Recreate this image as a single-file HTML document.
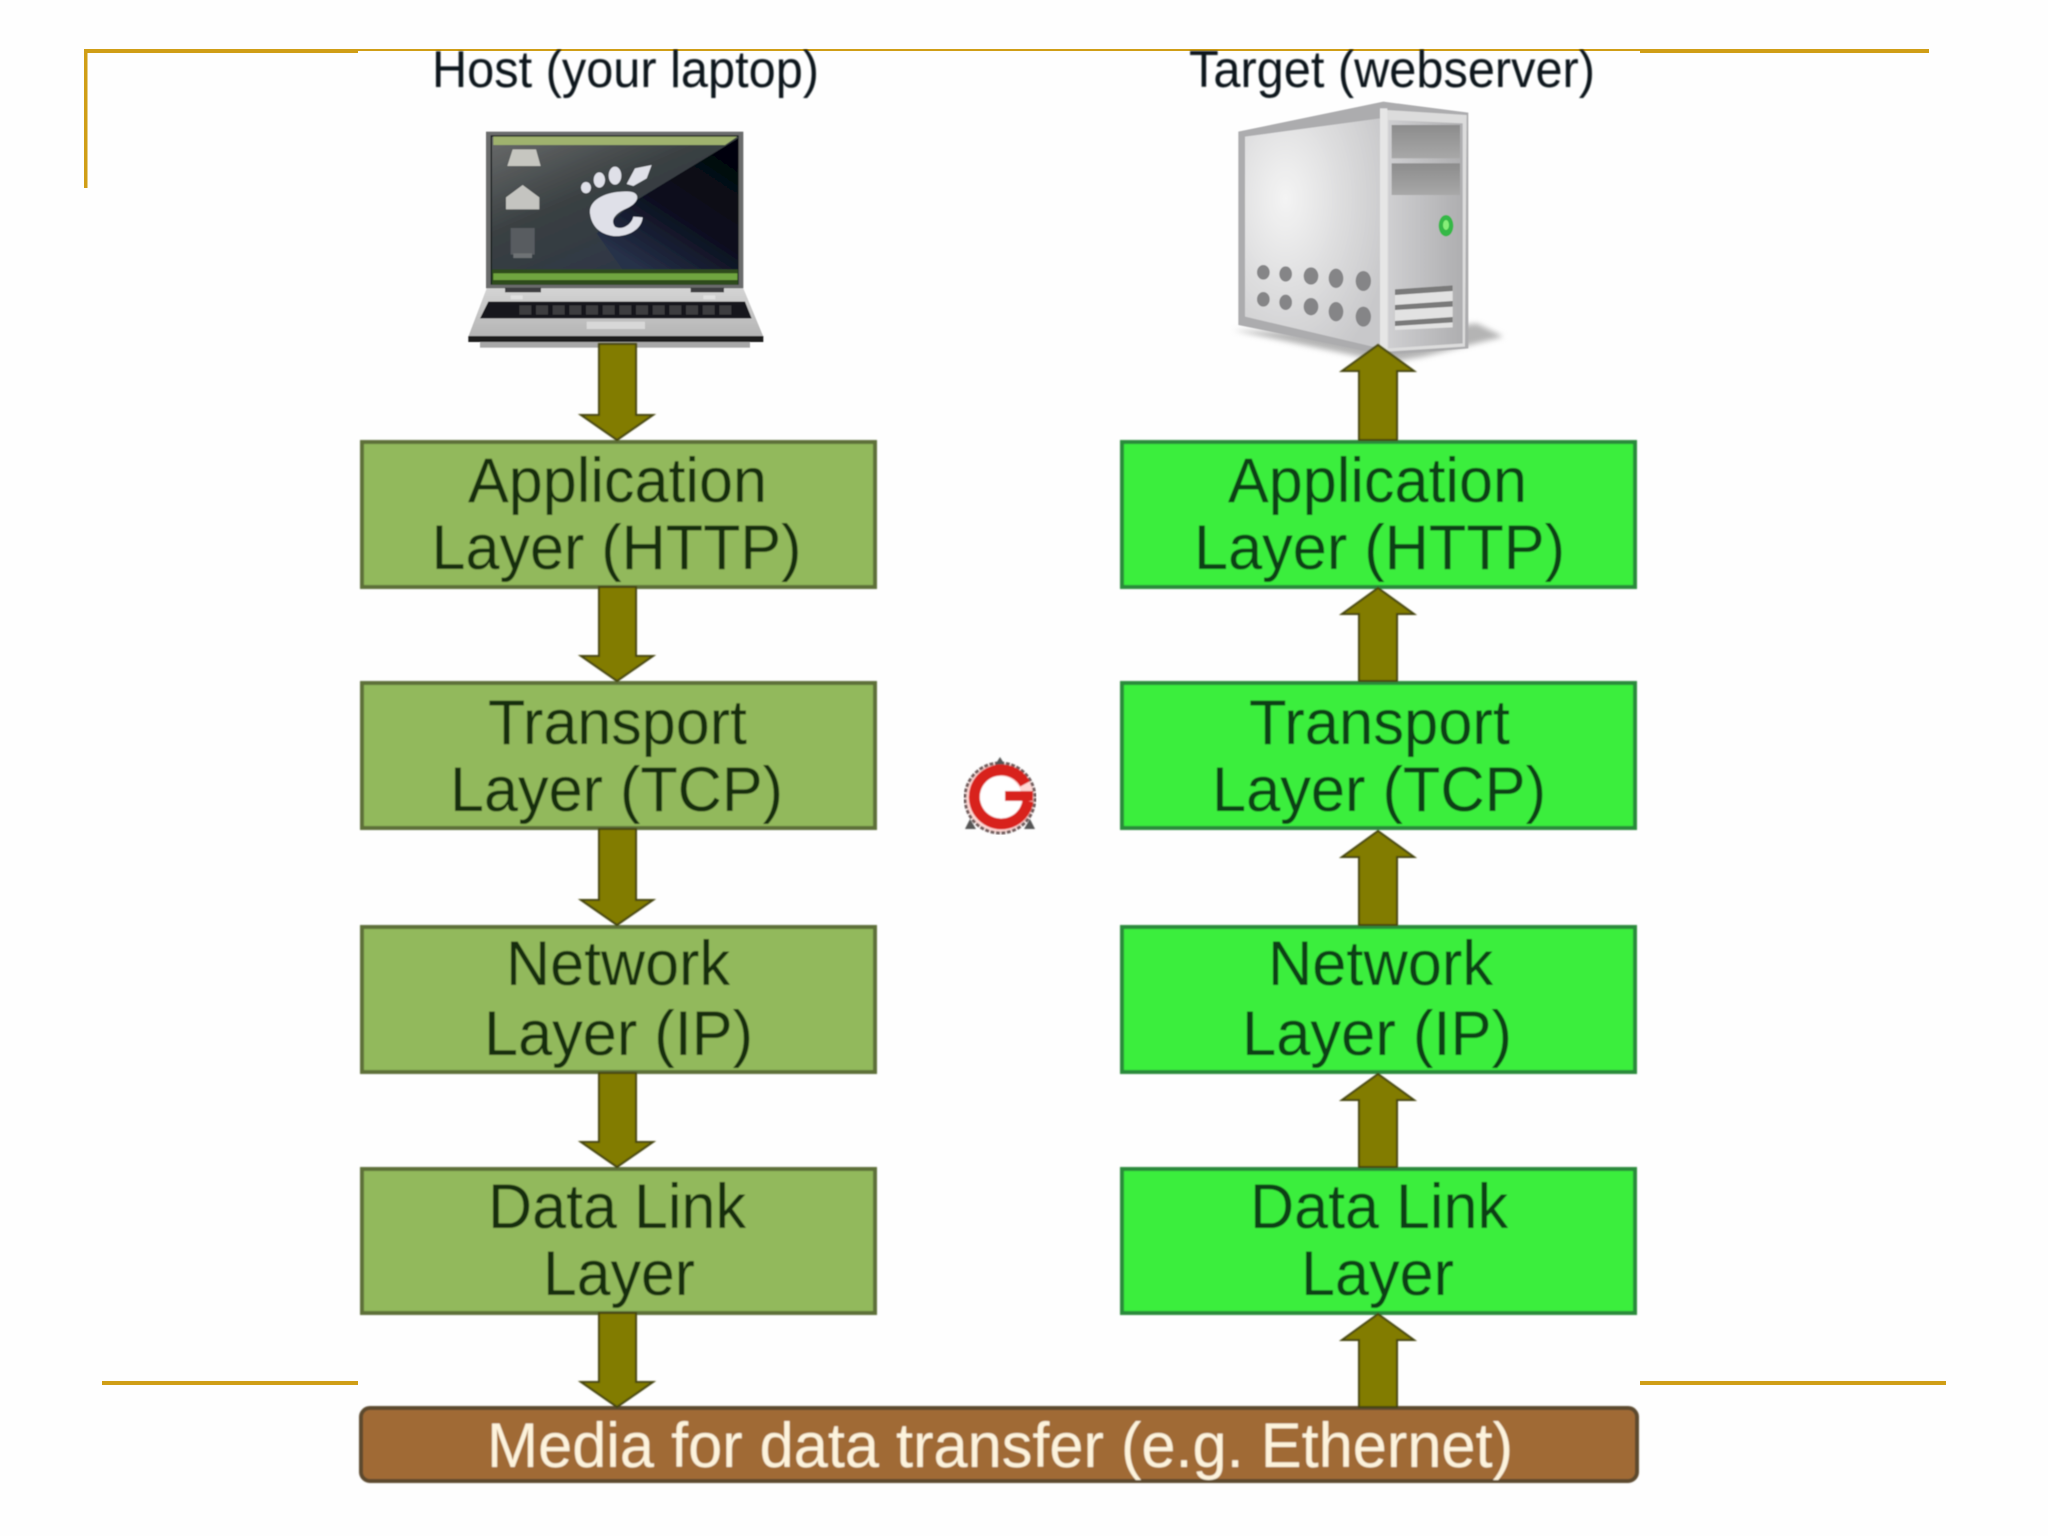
<!DOCTYPE html>
<html>
<head>
<meta charset="utf-8">
<style>
html,body{margin:0;padding:0;background:#fefefe;width:2048px;height:1536px;overflow:hidden}
svg{display:block}
text{font-family:"Liberation Sans",sans-serif}
.t{font-size:63px;text-anchor:start}
.l{fill:#142f0c}
.r{fill:#0a4012}
</style>
</head>
<body>
<svg width="2048" height="1536" viewBox="0 0 2048 1536" xmlns="http://www.w3.org/2000/svg">
<defs>
<filter id="soft" x="-2%" y="-2%" width="104%" height="104%"><feGaussianBlur stdDeviation="0.8"/></filter>
<filter id="b1" x="-20%" y="-20%" width="140%" height="140%"><feGaussianBlur stdDeviation="1.7"/></filter>
<filter id="b8" x="-30%" y="-150%" width="160%" height="400%"><feGaussianBlur stdDeviation="9"/></filter>
<linearGradient id="scr" x1="0" y1="0" x2="0.8" y2="1"><stop offset="0" stop-color="#696b6b"/><stop offset="0.45" stop-color="#3a4042"/><stop offset="1" stop-color="#2a3446"/></linearGradient>
<linearGradient id="dark" x1="1" y1="0" x2="0.3" y2="1"><stop offset="0" stop-color="#020308"/><stop offset="0.6" stop-color="#0c1020"/><stop offset="1" stop-color="#28324a"/></linearGradient>
<linearGradient id="base" x1="0" y1="0" x2="0" y2="1"><stop offset="0" stop-color="#d4d4d4"/><stop offset="1" stop-color="#b4b4b4"/></linearGradient>
<radialGradient id="side" cx="0.3" cy="0.35" r="0.8"><stop offset="0" stop-color="#f4f4f4"/><stop offset="1" stop-color="#c8c8ca"/></radialGradient>
<linearGradient id="front" x1="0" y1="0" x2="1" y2="0"><stop offset="0" stop-color="#cfcfd1"/><stop offset="1" stop-color="#aeaeb0"/></linearGradient>
<linearGradient id="bay" x1="0" y1="0" x2="0" y2="1"><stop offset="0" stop-color="#8c8c8c"/><stop offset="1" stop-color="#a8a8a8"/></linearGradient>
</defs>

<!-- gold frame -->
<g fill="#d09e16">
<rect x="84" y="49" width="274" height="4"/>
<rect x="84" y="49" width="3.5" height="139"/>
<rect x="358" y="49" width="1282" height="2"/>
<rect x="1640" y="49" width="289" height="4"/>
<rect x="102" y="1381" width="256" height="4"/>
<rect x="1640" y="1381" width="306" height="4"/>
</g>

<!-- labels -->
<g filter="url(#soft)">
<text x="432" y="87" font-size="52" fill="#10141c" textLength="387" lengthAdjust="spacingAndGlyphs">Host (your laptop)</text>
<text x="1189" y="87" font-size="52" fill="#10141c" textLength="406" lengthAdjust="spacingAndGlyphs">Target (webserver)</text>
</g>

<!-- laptop -->
<g transform="translate(450,110) scale(0.33333)" filter="url(#b1)">
<rect x="90" y="695" width="810" height="18" fill="#a8a8a8"/>
<polygon points="110,535 880,535 940,680 55,680" fill="url(#base)"/>
<rect x="55" y="678" width="885" height="18" fill="#1c1c1e"/>
<rect x="108" y="65" width="772" height="470" fill="#6a6c6c"/>
<rect x="122" y="76" width="744" height="448" fill="#101214"/>
<rect x="126" y="80" width="738" height="402" fill="url(#scr)"/>
<polygon points="864,85 864,482 520,482 440,370 560,270" fill="url(#dark)"/>
<polygon points="130,80 862,80 825,105 130,105" fill="#9fb26e"/>
<rect x="126" y="478" width="738" height="46" fill="#2e4c1e"/>
<rect x="130" y="490" width="732" height="20" fill="#6fa540"/>
<rect x="165" y="533" width="108" height="14" fill="#3c3c40"/>
<rect x="722" y="533" width="100" height="14" fill="#3c3c40"/>
<rect x="182" y="556" width="36" height="12" fill="#e0e0e0"/>
<rect x="760" y="556" width="36" height="12" fill="#e0e0e0"/>
<polygon points="115,575 885,575 905,625 90,625" fill="#19191c"/>
<g fill="#3c3c40">
<rect x="208" y="586" width="36" height="28"/><rect x="258" y="586" width="36" height="28"/><rect x="308" y="586" width="36" height="28"/><rect x="358" y="586" width="36" height="28"/><rect x="408" y="586" width="36" height="28"/><rect x="458" y="586" width="36" height="28"/><rect x="508" y="586" width="36" height="28"/><rect x="558" y="586" width="36" height="28"/><rect x="608" y="586" width="36" height="28"/><rect x="658" y="586" width="36" height="28"/><rect x="708" y="586" width="36" height="28"/><rect x="758" y="586" width="36" height="28"/><rect x="808" y="586" width="36" height="28"/>
</g>
<rect x="410" y="635" width="175" height="22" fill="#d8d8d8"/>
<!-- desktop icons -->
<polygon points="188,118 258,118 272,168 172,168" fill="#c6c6c0"/>
<polygon points="218,225 268,262 268,298 168,298 168,262" fill="#c4c4c0"/>
<rect x="182" y="354" width="72" height="80" fill="#585c60"/>
<rect x="190" y="430" width="56" height="14" fill="#6e7274"/>
<!-- foot -->
<g fill="#dfe0e8">
<ellipse cx="408" cy="233" rx="15" ry="17"/>
<ellipse cx="448" cy="210" rx="17" ry="23"/>
<ellipse cx="495" cy="197" rx="19" ry="27"/>
<polygon points="530,222 555,175 605,165 590,205 550,228"/>
<path d="M420,310 C415,265 480,240 540,245 C575,250 565,280 530,295 C495,310 480,330 495,350 C515,362 545,345 550,320 L578,322 C575,360 530,382 490,378 C450,372 425,350 420,310 Z"/>
</g>
</g>

<!-- server -->
<g transform="translate(1210,90) scale(0.33333)">
<polygon points="70,720 450,800 520,820 640,800 880,740 800,700 500,740" fill="#b4b4b4" filter="url(#b8)"/>
<g filter="url(#b1)">
<polygon points="85,125 520,35 775,68 775,775 520,795 450,780 85,705" fill="#acacae"/>
<polygon points="105,140 510,85 510,775 105,680" fill="url(#side)"/>
<polygon points="530,60 770,75 765,770 530,785" fill="#dcdcdc"/>
<polygon points="535,90 758,100 758,760 535,775" fill="url(#front)"/>
<rect x="510" y="55" width="22" height="735" fill="#e6e6e6"/>
<rect x="545" y="105" width="205" height="100" fill="url(#bay)"/>
<rect x="545" y="220" width="205" height="95" fill="url(#bay)"/>
<ellipse cx="708" cy="407" rx="22" ry="32" fill="#36b846"/>
<ellipse cx="708" cy="405" rx="9" ry="15" fill="#86ee78"/>
<g fill="#858587">
<ellipse cx="160" cy="547" rx="19" ry="22"/><ellipse cx="227" cy="552" rx="19" ry="23"/><ellipse cx="303" cy="558" rx="22" ry="26"/><ellipse cx="378" cy="565" rx="22" ry="29"/><ellipse cx="460" cy="573" rx="23" ry="30"/>
<ellipse cx="160" cy="628" rx="19" ry="22"/><ellipse cx="227" cy="637" rx="19" ry="23"/><ellipse cx="303" cy="650" rx="22" ry="26"/><ellipse cx="378" cy="665" rx="22" ry="29"/><ellipse cx="460" cy="680" rx="23" ry="30"/>
</g>
<polygon points="555,598 728,586 728,712 555,720" fill="#e2e2e2"/>
<polygon points="555,598 728,586 728,603 555,615" fill="#7a7a7a"/>
<polygon points="555,645 728,633 728,650 555,660" fill="#7a7a7a"/>
<polygon points="555,693 728,681 728,697 555,708" fill="#7a7a7a"/>
</g>
</g>

<g filter="url(#soft)">
<!-- left boxes -->
<g fill="#92b95b" stroke="#5d6f38" stroke-width="4">
<rect x="362" y="442" width="513" height="145"/>
<rect x="362" y="683" width="513" height="145"/>
<rect x="362" y="927" width="513" height="145"/>
<rect x="362" y="1169" width="513" height="144"/>
</g>
<!-- right boxes -->
<g fill="#3bee3d" stroke="#2b8a3b" stroke-width="4">
<rect x="1122" y="442" width="513" height="145"/>
<rect x="1122" y="683" width="513" height="145"/>
<rect x="1122" y="927" width="513" height="145"/>
<rect x="1122" y="1169" width="513" height="144"/>
</g>
<!-- media -->
<rect x="361" y="1408" width="1276" height="73" rx="9" ry="9" fill="#a06a34" stroke="#5c4a2e" stroke-width="4"/>

<!-- arrows -->
<g fill="#827c00" stroke="#45450f" stroke-width="2">
<polygon points="599,344 636,344 636,415 653,415 617,440 581,415 599,415"/>
<polygon points="599,587 636,587 636,656 653,656 617,681 581,656 599,656"/>
<polygon points="599,829 636,829 636,900 653,900 617,925 581,900 599,900"/>
<polygon points="599,1073 636,1073 636,1142 653,1142 617,1167 581,1142 599,1142"/>
<polygon points="599,1313 636,1313 636,1382 653,1382 617,1407 581,1382 599,1382"/>
<polygon points="1359,440 1397,440 1397,371 1414,371 1378,345 1342,371 1359,371"/>
<polygon points="1359,681 1397,681 1397,614 1414,614 1378,588 1342,614 1359,614"/>
<polygon points="1359,925 1397,925 1397,857 1414,857 1378,831 1342,857 1359,857"/>
<polygon points="1359,1167 1397,1167 1397,1100 1414,1100 1378,1074 1342,1100 1359,1100"/>
<polygon points="1359,1407 1397,1407 1397,1340 1414,1340 1378,1314 1342,1340 1359,1340"/>
</g>

<!-- left text -->
<g class="l">
<text class="t" x="468" y="502" textLength="299" lengthAdjust="spacingAndGlyphs">Application</text>
<text class="t" x="431.5" y="569" textLength="370" lengthAdjust="spacingAndGlyphs">Layer (HTTP)</text>
<text class="t" x="488" y="744" textLength="259" lengthAdjust="spacingAndGlyphs">Transport</text>
<text class="t" x="450" y="811" textLength="333" lengthAdjust="spacingAndGlyphs">Layer (TCP)</text>
<text class="t" x="506" y="985" textLength="224" lengthAdjust="spacingAndGlyphs">Network</text>
<text class="t" x="484" y="1055" textLength="269" lengthAdjust="spacingAndGlyphs">Layer (IP)</text>
<text class="t" x="488" y="1228" textLength="258" lengthAdjust="spacingAndGlyphs">Data Link</text>
<text class="t" x="543" y="1295" textLength="152" lengthAdjust="spacingAndGlyphs">Layer</text>
</g>
<!-- right text -->
<g class="r">
<text class="t" x="1228" y="502" textLength="299" lengthAdjust="spacingAndGlyphs">Application</text>
<text class="t" x="1194" y="569" textLength="371" lengthAdjust="spacingAndGlyphs">Layer (HTTP)</text>
<text class="t" x="1249" y="744" textLength="261" lengthAdjust="spacingAndGlyphs">Transport</text>
<text class="t" x="1212" y="811" textLength="334" lengthAdjust="spacingAndGlyphs">Layer (TCP)</text>
<text class="t" x="1268" y="985" textLength="225" lengthAdjust="spacingAndGlyphs">Network</text>
<text class="t" x="1242" y="1055" textLength="270" lengthAdjust="spacingAndGlyphs">Layer (IP)</text>
<text class="t" x="1250" y="1228" textLength="258" lengthAdjust="spacingAndGlyphs">Data Link</text>
<text class="t" x="1301" y="1295" textLength="153" lengthAdjust="spacingAndGlyphs">Layer</text>
</g>
<text class="t" x="487" y="1467" textLength="1026" lengthAdjust="spacingAndGlyphs" fill="#fdf3dc">Media for data transfer (e.g. Ethernet)</text>
</g>

<!-- G logo -->
<g transform="translate(1000,798)" filter="url(#soft)">
<circle r="35" fill="#ffd8d4" stroke="#6e5a5a" stroke-width="3" stroke-dasharray="4 1.5"/>
<polygon points="0,-41 5,-33 -5,-33" fill="#555"/>
<polygon points="-30,21 -24,31 -35,31" fill="#555"/>
<polygon points="30,21 35,31 24,31" fill="#555"/>
<circle r="22" fill="#ffffff"/>
<path d="M25,-14 A27,27 0 1 0 28,3" fill="none" stroke="#d8201c" stroke-width="11"/>
<rect x="5" y="-7" width="28" height="10" fill="#d8201c"/>
</g>
</svg>
</body>
</html>
